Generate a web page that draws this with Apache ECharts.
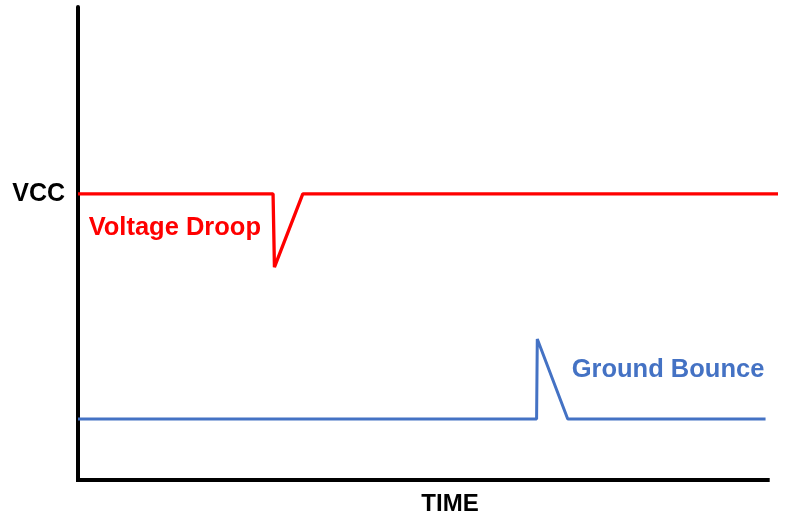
<!DOCTYPE html>
<html><head><meta charset="utf-8">
<script src="https://cdn.jsdelivr.net/npm/echarts@6/dist/echarts.min.js"></script>
<style>html,body{margin:0;padding:0;background:#fff}#c{width:800px;height:532px}</style>
</head><body><div id="c"></div>
<script>
// Time axis runs 0..100, level axis runs 0..100
const vccLevel = 60.5;
const droopTime = [0, 28.2, 28.4, 32.5, 101.2];
const droopLevel = [60.5, 60.5, 45.0, 60.5, 60.5];
const bounceTime = [0, 66.3, 66.4, 70.8, 99.4];
const bounceLevel = [12.9, 12.9, 29.8, 12.9, 12.9];
const droopLabel = {text: 'Voltage Droop', time: 14.0, level: 53.3};
const bounceLabel = {text: 'Ground Bounce', time: 85.3, level: 23.3};
const yTickLabel = 'VCC';
const xAxisName = 'TIME';
const timeMax = 101.2;   // axis scale reaches the end of the VCC trace
const axisLineEnd = 100; // drawn time axis line stops here

const font = '"Liberation Sans", Arial, sans-serif';
const zip = (a, b) => a.map((v, i) => [v, b[i]]);
const chart = echarts.init(document.getElementById('c'));
chart.setOption({
  animation: false,
  grid: {left: 78, right: 22, top: 7, bottom: 52},
  xAxis: {
    type: 'value', min: 0, max: timeMax,
    name: xAxisName, nameLocation: 'middle', nameGap: 12,
    nameTextStyle: {color: '#000', fontWeight: 'bold', fontSize: 24, fontFamily: font, padding: [0, 0, 0, 44]},
    axisLine: {show: false},
    axisTick: {show: false}, axisLabel: {show: false}, splitLine: {show: false}
  },
  yAxis: {
    type: 'value', min: 0, max: 100,
    axisLine: {show: true, lineStyle: {color: '#000', width: 4}},
    axisTick: {show: false}, splitLine: {show: false},
    axisLabel: {
      show: true, customValues: [vccLevel], margin: 13,
      formatter: () => yTickLabel, padding: [6, 0, 0, 0],
      color: '#000', fontWeight: 'bold', fontSize: 25, fontFamily: font
    }
  },
  series: [
    {
      type: 'line', data: zip(droopTime, droopLevel), clip: false,
      symbol: 'none', lineStyle: {color: '#FF0000', width: 3.3},
      markPoint: {
        symbol: 'circle', symbolSize: 0,
        label: {show: true, position: 'inside', formatter: droopLabel.text, color: '#FF0000', fontWeight: 'bold', fontSize: 25.5, fontFamily: font},
        data: [{coord: [droopLabel.time, droopLabel.level]}]
      }
    },
    {
      type: 'line', data: zip(bounceTime, bounceLevel), clip: false,
      symbol: 'none', lineStyle: {color: '#4472C4', width: 3},
      markPoint: {
        symbol: 'circle', symbolSize: 0,
        label: {show: true, position: 'inside', formatter: bounceLabel.text, color: '#4472C4', fontWeight: 'bold', fontSize: 25.5, fontFamily: font},
        data: [{coord: [bounceLabel.time, bounceLabel.level]}]
      }
    },
    {
      type: 'line', data: [[-0.3, 0], [axisLineEnd, 0]], clip: false, silent: true,
      symbol: 'none', lineStyle: {color: '#000', width: 4}, z: 1
    }
  ]
});
</script></body></html>
